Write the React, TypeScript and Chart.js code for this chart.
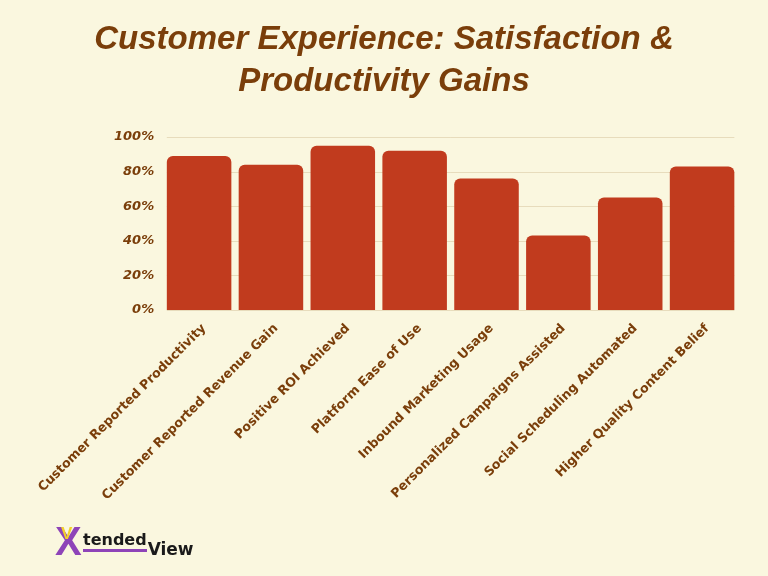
import React, { useEffect, useRef } from "react";
import { Chart, registerables } from "chart.js";

Chart.register(...registerables);

const categories = [
  "Customer Reported Productivity",
  "Customer Reported Revenue Gain",
  "Positive ROI Achieved",
  "Platform Ease of Use",
  "Inbound Marketing Usage",
  "Personalized Campaigns Assisted",
  "Social Scheduling Automated",
  "Higher Quality Content Belief",
];
const values = [89, 84, 95, 92, 76, 43, 65, 83];
const yTicks = [0, 20, 40, 60, 80, 100];
const titleLines = ["Customer Experience: Satisfaction &", "Productivity Gains"];

const BG = "#FAF7DF";
const BAR = "#C13B1E";
const TEXT = "#7A3E0A";
const GRID = "rgba(190,160,110,0.3)";

// draws horizontal gridlines spanning from the first bar's left edge to the last bar's right edge
const gridPlugin = {
  id: "barGrid",
  beforeDatasetsDraw(chart: any) {
    const meta = chart.getDatasetMeta(0);
    if (!meta.data.length) return;
    const first = meta.data[0];
    const last = meta.data[meta.data.length - 1];
    const x0 = first.x - first.width / 2;
    const x1 = last.x + last.width / 2;
    const yScale = chart.scales.y;
    const ctx = chart.ctx;
    ctx.save();
    ctx.strokeStyle = GRID;
    ctx.lineWidth = 1;
    yTicks.forEach((t) => {
      const y = Math.round(yScale.getPixelForValue(t)) + 0.5;
      ctx.beginPath();
      ctx.moveTo(x0, y);
      ctx.lineTo(x1, y);
      ctx.stroke();
    });
    ctx.restore();
  },
};

export default function App() {
  const ref = useRef<HTMLCanvasElement | null>(null);
  useEffect(() => {
    if (!ref.current) return;
    const chart = new Chart(ref.current, {
      type: "bar",
      data: {
        labels: categories,
        datasets: [
          {
            data: values,
            backgroundColor: BAR,
            borderRadius: 6,
            borderSkipped: "bottom",
            barPercentage: 0.898,
            categoryPercentage: 1,
          },
        ],
      },
      plugins: [gridPlugin],
      options: {
        animation: false,
        responsive: false,
        maintainAspectRatio: false,
        layout: { padding: { left: 113, right: 30, top: 137, bottom: 60 } },
        plugins: {
          legend: { display: false },
          tooltip: { enabled: false },
          title: { display: false },
        },
        scales: {
          x: {
            grid: { display: false },
            border: { display: false },
            afterFit: (scale: any) => {
              scale.height = 206;
            },
            ticks: {
              color: TEXT,
              maxRotation: 45,
              minRotation: 45,
              autoSkip: false,
              labelOffset: 5,
              font: { family: "DejaVu Sans", size: 12.7, weight: "bold" },
            },
          },
          y: {
            min: 0,
            max: 100,
            border: { display: false },
            grid: { display: false },
            ticks: {
              stepSize: 20,
              color: TEXT,
              padding: 1,
              font: { family: "DejaVu Sans", size: 13, weight: "bold", style: "italic" },
              callback: (v: any) => v + "%",
            },
          },
        },
      },
    });
    return () => chart.destroy();
  }, []);

  return (
    <div style={{ position: "fixed", left: 0, top: 0, width: 768, height: 576, background: BG, overflow: "hidden" }}>
      <canvas ref={ref} width={768} height={576} style={{ position: "absolute", left: 0, top: 0 }} />
      <div
        style={{
          position: "absolute",
          left: 0,
          top: 17,
          width: 768,
          textAlign: "center",
          fontFamily: "Liberation Sans",
          fontWeight: "bold",
          fontStyle: "italic",
          fontSize: 33,
          lineHeight: "42px",
          color: TEXT,
        }}
      >
        <div>{titleLines[0]}</div>
        <div>{titleLines[1]}</div>
      </div>
      <div style={{ position: "absolute", left: 55, top: 522, height: 36, display: "flex", alignItems: "flex-end", fontFamily: "DejaVu Sans", fontWeight: "bold" }}>
        <span style={{ fontSize: 40, color: "#8E44B8", lineHeight: "33px", position: "relative", fontFamily: "Liberation Sans", width: 28 }}>
          X
          <span style={{ position: "absolute", left: 6, top: 0, fontSize: 17, color: "#F2D02B", lineHeight: "17px" }}>V</span>
        </span>
        <span style={{ fontSize: 16, color: "#1a1a1a", lineHeight: "16px", marginBottom: 6, paddingBottom: 1, borderBottom: "3px solid #8E44B8", marginLeft: 0 }}>tended</span>
        <span style={{ fontSize: 17, color: "#1a1a1a", lineHeight: "17px", marginBottom: 0, marginLeft: 1 }}>View</span>
      </div>
    </div>
  );
}
